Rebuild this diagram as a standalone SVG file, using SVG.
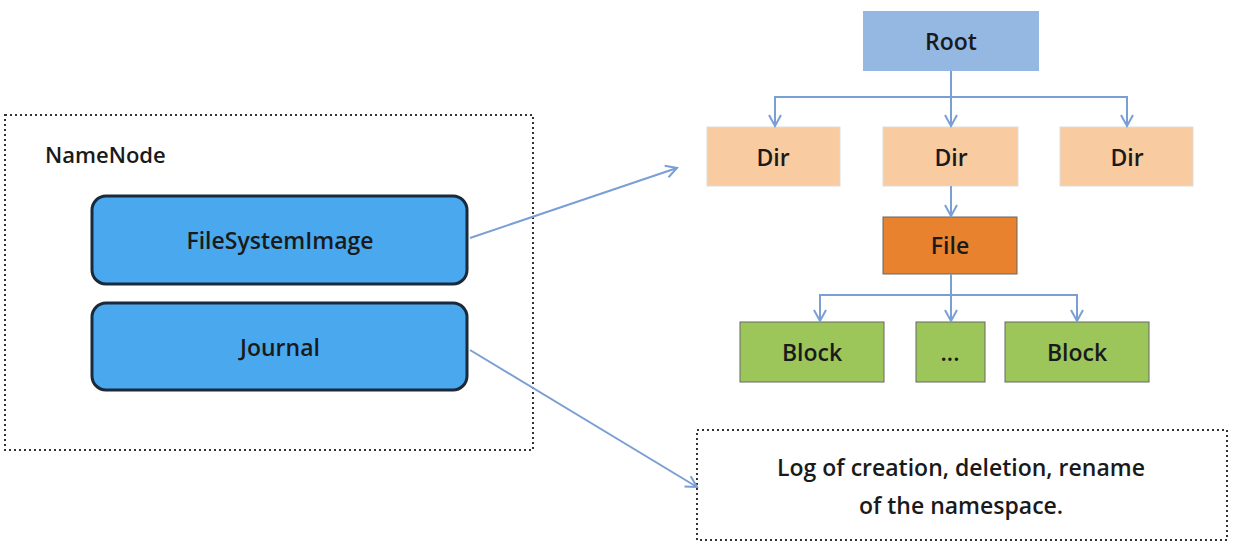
<svg xmlns="http://www.w3.org/2000/svg" width="1234" height="546" viewBox="0 0 1234 546">
<defs>
<style>
.t{font-family:"Open Sans","Liberation Sans",sans-serif;font-weight:600;fill:#1a1a1a;text-anchor:middle}
.c{stroke:#7a9fd4;stroke-width:2;fill:none}
.dot{fill:none;stroke:#333;stroke-width:2;stroke-dasharray:2 3}
</style>
<marker id="a" markerWidth="14" markerHeight="14" refX="12" refY="7" orient="auto" markerUnits="userSpaceOnUse">
<path d="M1,1 L12,7 L1,13" fill="none" stroke="#7a9fd4" stroke-width="2"/>
</marker>
</defs>
<rect width="1234" height="546" fill="#fff"/>
<g id="namenode">
<rect class="dot" x="5" y="115" width="528" height="335"/>
<text class="t" x="45" y="163" style="text-anchor:start" font-size="22">NameNode</text>
</g>
<g id="fsimage">
<rect x="92" y="196" width="375" height="88" rx="14" fill="#4aa8ee" stroke="#1a2a3a" stroke-width="3"/>
<text class="t" x="280" y="249" font-size="23">FileSystemImage</text>
</g>
<g id="journal">
<rect x="92" y="303" width="375" height="87" rx="14" fill="#4aa8ee" stroke="#1a2a3a" stroke-width="3"/>
<text class="t" x="280" y="356" font-size="23">Journal</text>
</g>
<g id="root"><rect x="863" y="11" width="176" height="60" fill="#95b8e3"/><text class="t" x="951" y="50" font-size="23">Root</text></g>
<g id="dir1"><rect x="707" y="127" width="133" height="59" fill="#f8cba0" stroke="#ddd"/><text class="t" x="773" y="166" font-size="23">Dir</text></g>
<g id="dir2"><rect x="883" y="127" width="135" height="59" fill="#f8cba0" stroke="#ddd"/><text class="t" x="951" y="166" font-size="23">Dir</text></g>
<g id="dir3"><rect x="1060" y="127" width="133" height="59" fill="#f8cba0" stroke="#ddd"/><text class="t" x="1127" y="166" font-size="23">Dir</text></g>
<g id="file"><rect x="883" y="217" width="134" height="57" fill="#e8822e" stroke="#666"/><text class="t" x="950" y="254" font-size="23">File</text></g>
<g id="block1"><rect x="740" y="322" width="144" height="60" fill="#9cc65a" stroke="#666"/><text class="t" x="812" y="361" font-size="23">Block</text></g>
<g id="blockdots"><rect x="916" y="322" width="69" height="60" fill="#9cc65a" stroke="#666"/><text class="t" x="950" y="361" font-size="23">...</text></g>
<g id="block2"><rect x="1005" y="322" width="144" height="60" fill="#9cc65a" stroke="#666"/><text class="t" x="1077" y="361" font-size="23">Block</text></g>
<g id="log">
<rect class="dot" x="697" y="430" width="530" height="110"/>
<text class="t" x="961" y="476" font-size="23">Log of creation, deletion, rename</text>
<text class="t" x="961" y="514" font-size="23">of the namespace.</text>
</g>
<g id="connectors">
<path class="c" d="M951,71 V126" marker-end="url(#a)"/>
<path class="c" d="M775,126 V97 H1127 V126" marker-end="url(#a)"/>
<path class="c" d="M775,97 V126" marker-end="url(#a)"/>
<path class="c" d="M951,186 V216" marker-end="url(#a)"/>
<path class="c" d="M951,274 V321" marker-end="url(#a)"/>
<path class="c" d="M820,321 V295 H1077 V321" marker-end="url(#a)"/>
<path class="c" d="M820,295 V321" marker-end="url(#a)"/>
<path class="c" d="M470,238 L677,168" marker-end="url(#a)"/>
<path class="c" d="M470,350 L697,487" marker-end="url(#a)"/>
</g>
</svg>
